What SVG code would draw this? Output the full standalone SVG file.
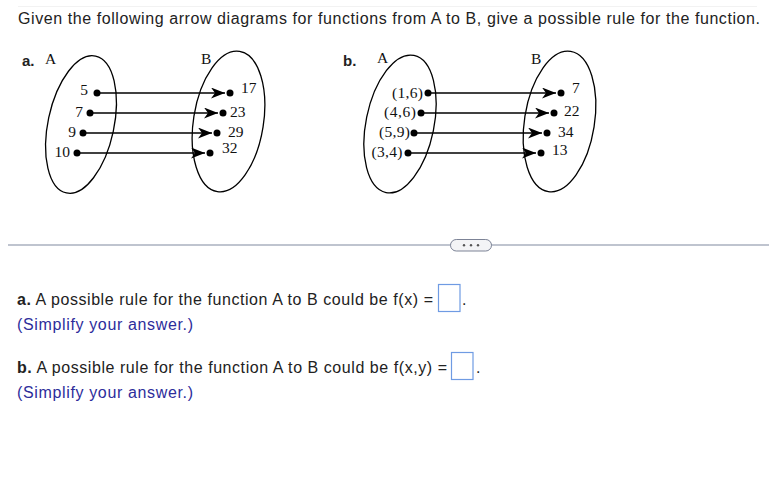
<svg xmlns="http://www.w3.org/2000/svg" width="769" height="478" viewBox="0 0 769 478">
<style>
.sans{font-family:"Liberation Sans",Arial,sans-serif}
.serif{font-family:"Liberation Serif","Times New Roman",serif;font-size:15.5px;fill:#111}
.title{font-size:16px;fill:#222}
.q{font-size:16px;fill:#222}
.blue{font-size:16px;fill:#2d2d9b}
.bold{font-weight:bold}
.set{fill:none;stroke:#000;stroke-width:1.3}
.dot{fill:#000}
.conn line{stroke:#000;stroke-width:1.3;marker-end:url(#ah)}
.box{fill:#fff;stroke:#6f9be3;stroke-width:1.2}
</style>
<defs>
<marker id="ah" markerUnits="userSpaceOnUse" markerWidth="15" markerHeight="11" refX="14" refY="5.5" orient="auto">
<path d="M0,0 L14,5.5 L0,11 L4,5.5 Z" fill="#000"/>
</marker>
</defs>
<rect width="769" height="478" fill="#fff"/>
<line x1="18" y1="6.5" x2="757" y2="6.5" stroke="#f2f2f2" stroke-width="1"/>
<text class="sans title" x="18" y="24" textLength="742" lengthAdjust="spacing">Given the following arrow diagrams for functions from A to B, give a possible rule for the function.</text>

<!-- Diagram a -->
<text class="sans bold" x="22" y="66" font-size="15" fill="#222">a.</text>
<g id="setA_a">
<ellipse class="set" cx="81" cy="124.5" rx="33" ry="70" transform="rotate(12 81 124.5)"/>
<text class="serif" x="45" y="64">A</text>
</g>
<g id="setB_a">
<ellipse class="set" cx="228.5" cy="121.5" rx="35" ry="71" transform="rotate(9 228.5 121.5)"/>
<text class="serif" x="201" y="64">B</text>
</g>
<g id="a_5"><circle class="dot" cx="97" cy="93" r="3.5"/><text class="serif" x="88" y="95" text-anchor="end">5</text></g>
<g id="a_7"><circle class="dot" cx="90" cy="113" r="3.5"/><text class="serif" x="83" y="116.5" text-anchor="end">7</text></g>
<g id="a_9"><circle class="dot" cx="83" cy="133" r="3.5"/><text class="serif" x="76" y="137" text-anchor="end">9</text></g>
<g id="a_10"><circle class="dot" cx="77" cy="153" r="3.5"/><text class="serif" x="70" y="157" text-anchor="end">10</text></g>
<g id="a_17"><circle class="dot" cx="230" cy="93" r="3.5"/><text class="serif" x="241" y="93">17</text></g>
<g id="a_23"><circle class="dot" cx="223" cy="113" r="3.5"/><text class="serif" x="230" y="116.5">23</text></g>
<g id="a_29"><circle class="dot" cx="217" cy="133" r="3.5"/><text class="serif" x="228" y="136.5">29</text></g>
<g id="a_32"><circle class="dot" cx="210" cy="153" r="3.5"/><text class="serif" x="222" y="153">32</text></g>

<!-- Diagram b -->
<text class="sans bold" x="343" y="66" font-size="15" fill="#222">b.</text>
<g id="setA_b">
<ellipse class="set" cx="400" cy="124" rx="34" ry="70" transform="rotate(11.5 400 124)"/>
<text class="serif" x="377" y="63">A</text>
</g>
<g id="setB_b">
<ellipse class="set" cx="559.5" cy="121.5" rx="35" ry="71" transform="rotate(9 559.5 121.5)"/>
<text class="serif" x="531" y="64">B</text>
</g>
<g id="b_16"><circle class="dot" cx="428" cy="93" r="3.5"/><text class="serif" x="392" y="97.5" textLength="31" lengthAdjust="spacing">(1,6)</text></g>
<g id="b_46"><circle class="dot" cx="421" cy="113" r="3.5"/><text class="serif" x="384" y="117" textLength="32" lengthAdjust="spacing">(4,6)</text></g>
<g id="b_59"><circle class="dot" cx="414" cy="133" r="3.5"/><text class="serif" x="379" y="137" textLength="31" lengthAdjust="spacing">(5,9)</text></g>
<g id="b_34"><circle class="dot" cx="408" cy="153" r="3.5"/><text class="serif" x="371.5" y="157" textLength="31" lengthAdjust="spacing">(3,4)</text></g>
<g id="b_7"><circle class="dot" cx="561" cy="93" r="3.5"/><text class="serif" x="572" y="93">7</text></g>
<g id="b_22"><circle class="dot" cx="554" cy="113" r="3.5"/><text class="serif" x="564" y="116">22</text></g>
<g id="b_34t"><circle class="dot" cx="547" cy="133" r="3.5"/><text class="serif" x="558" y="137">34</text></g>
<g id="b_13"><circle class="dot" cx="541" cy="153" r="3.5"/><text class="serif" x="552" y="155">13</text></g>

<g id="connectors" class="conn">
<line x1="97" y1="93" x2="225" y2="93"/>
<line x1="90" y1="113" x2="218" y2="113"/>
<line x1="83" y1="133" x2="212" y2="133"/>
<line x1="77" y1="153" x2="205" y2="153"/>
<line x1="428" y1="93" x2="556" y2="93"/>
<line x1="421" y1="113" x2="549" y2="113"/>
<line x1="414" y1="133" x2="542" y2="133"/>
<line x1="408" y1="153" x2="536" y2="153"/>
</g>

<!-- separator -->
<line x1="8" y1="245" x2="769" y2="245" stroke="#aab0bf" stroke-width="1.5"/>
<rect x="450.5" y="239.5" width="41" height="11.5" rx="5.75" fill="#f3f4f6" stroke="#7c8396" stroke-width="1"/>
<circle cx="464" cy="245.3" r="1.2" fill="#555"/>
<circle cx="471" cy="245.3" r="1.2" fill="#555"/>
<circle cx="478" cy="245.3" r="1.2" fill="#555"/>

<!-- questions -->
<text class="sans q" x="17" y="305" textLength="416" lengthAdjust="spacing"><tspan class="bold">a.</tspan> A possible rule for the function A to B could be f(x) =</text>
<rect class="box" x="438.5" y="284.5" width="21.5" height="27"/>
<text class="sans q" x="462" y="305">.</text>
<text class="sans blue" x="17" y="330" textLength="176" lengthAdjust="spacing">(Simplify your answer.)</text>

<text class="sans q" x="17" y="373" textLength="430" lengthAdjust="spacing"><tspan class="bold">b.</tspan> A possible rule for the function A to B could be f(x,y) =</text>
<rect class="box" x="451.5" y="352.5" width="21.5" height="27"/>
<text class="sans q" x="476" y="373">.</text>
<text class="sans blue" x="17" y="398" textLength="176" lengthAdjust="spacing">(Simplify your answer.)</text>
</svg>
